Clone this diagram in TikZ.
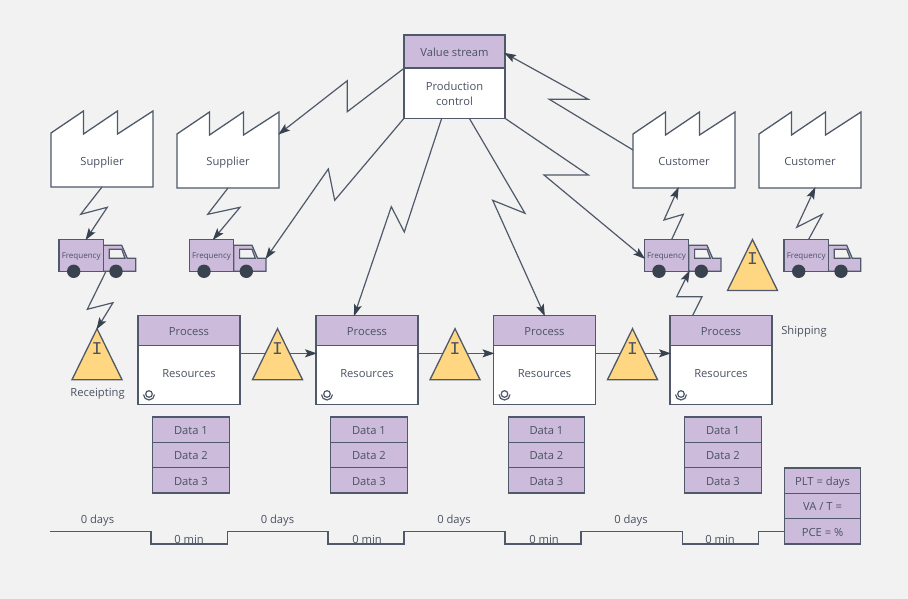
\documentclass[tikz,border=0pt]{standalone}
\usepackage{fontspec}
\setmainfont{Open Sans}
\newfontfamily\monofam{Liberation Mono}
\usetikzlibrary{arrows.meta,shapes.geometric}
\definecolor{bgc}{HTML}{F2F2F2}
\definecolor{linec}{HTML}{4F5969}
\definecolor{darkc}{HTML}{38434F}
\definecolor{textc}{HTML}{4B5262}
\definecolor{lilac}{HTML}{CDBBDC}
\definecolor{sand}{HTML}{FFD782}
\tikzset{
  base/.style={draw=linec,line width=1.3pt,inner sep=0pt,outer sep=0pt,text=textc,text height=11.6pt,text depth=2pt,font=\fontsize{11.2}{15}\selectfont},
  head/.style={base,fill=lilac,anchor=north west},
  body/.style={base,fill=white,anchor=north west},
  plain/.style={inner sep=0pt,text=textc,text height=10pt,text depth=2pt,font=\fontsize{11.2}{15}\selectfont},
  bolt/.style={draw=linec,line width=1.2pt,line join=miter,-{Stealth[length=12pt,width=8pt,inset=2.5pt,color=darkc]},shorten >=-1pt},
  flat/.style={draw=linec,line width=1.2pt},
  invtri/.style={draw=linec,line width=1.3pt,fill=sand,shape=isosceles triangle,shape border rotate=90,outer sep=0pt,
    isosceles triangle stretches,minimum width=50pt,minimum height=51pt,inner sep=0pt},
  ibar/.style={inner sep=0pt,text=textc,font=\monofam\fontsize{18}{18}\selectfont},
}
% factory outline with its name
\newcommand{\factory}[4]{
  \filldraw[base,fill=white] (#2,#3+22) -- (#2+32.5,#3) -- (#2+32.5,#3+23) -- (#2+66.5,#3) -- (#2+66.5,#3+23)
    -- (#2+102,#3) -- (#2+102,#3+76) -- (#2,#3+76) -- cycle;
  \node[minimum width=102pt,minimum height=76pt,inner sep=0pt,outer sep=0pt] (#1) at (#2+51,#3+38) {};
  \node[plain] (#1t) at (#2+51,#3+50) {#4};
}
\newcommand{\truck}[2]{
  \begin{scope}[shift={(#2,239.3)}]
  \filldraw[base,fill=lilac] (44.3,6) -- (62.7,6) -- (68.3,19) -- (76.7,19) -- (76.7,32) -- (44.3,32) -- cycle;
  \filldraw[base,line width=1.2pt,fill=bgc] (50.3,10) -- (62.7,10) -- (66,19) -- (50.3,19) -- cycle;
  \node[head,minimum width=44.3pt,minimum height=32pt,text height=8pt,text depth=2pt,font=\fontsize{8}{9}\selectfont] (#1) at (0,0) {Frequency};
  \fill[darkc] (14.7,32) circle (6.7) (57,32) circle (6.7);
  \end{scope}
}
\newcommand{\triangl}[3]{
  \node[invtri,anchor=apex] (#1) at (#2,#3) {};
  \node[ibar] (#1i) at (#2,#3+19.5) {I};
}
\begin{document}
\begin{tikzpicture}[x=1pt,y=-1pt]
\useasboundingbox (0,0) rectangle (908,599);
\fill[bgc] (0,0) rectangle (908,599);

\factory{sup1}{51}{111}{Supplier}
\factory{sup2}{177}{112}{Supplier}
\factory{cus1}{633}{112}{Customer}
\factory{cus2}{759}{112}{Customer}

\truck{trk1}{59}
\truck{trk2}{189.3}
\truck{trk3}{644.3}
\truck{trk4}{784}

\node[head,minimum width=101pt,minimum height=33pt] (vs) at (404,35) {Value stream};
\node[body,minimum width=101pt,minimum height=50pt] (ctrl) at (404,68.3) {};
\node[plain,align=center,text height=,text depth=] (ctrlt) at (454.5,94.2) {Production\\control};

\foreach \i/\x in {1/138,2/316,3/493.5,4/670}{
  \node[head,minimum width=102pt,minimum height=30pt] (p\i) at (\x,315.3) {Process};
  \node[body,minimum width=102pt,minimum height=59.5pt,text height=8pt,text depth=3.4pt] (r\i) at (\x,345.3) {Resources};
  \draw[flat] (\x+11,394) circle (3.3);
  \draw[flat] (\x+5.5,394.5) arc (180:0:5.5);
  \foreach \j/\y in {1/417,2/442.3,3/467.6}
    \node[head,minimum width=76.5pt,minimum height=25.3pt] (d\i\j) at (\x+14.7,\y) {Data \j};
}

\triangl{tri1}{97}{328.7}
\triangl{tri2}{277.5}{328.7}
\triangl{tri3}{455}{328.7}
\triangl{tri4}{632.5}{328.7}
\triangl{tri5}{752.5}{239.5}

\node[head,minimum width=76.5pt,minimum height=25.3pt] (s1) at (784.3,468) {PLT = days};
\node[head,minimum width=76.5pt,minimum height=25.3pt] (s2) at (784.3,493.3) {VA / T =};
\node[head,minimum width=76.5pt,minimum height=25.3pt] (s3) at (784.3,518.6) {PCE = \%};

\node[plain] (ship) at (804,330.7) {Shipping};
\node[plain] (rec) at (97.5,392) {Receipting};

\foreach \a/\t/\b in {1/2/2,2/3/3,3/4/4}{
  \coordinate (fa\a) at ([yshift=21.7pt]r\a.east);
  \coordinate (fb\a) at ([yshift=21.7pt]r\b.west);
  \draw[flat] (fa\a) -- ([xshift=-12.5pt]fa\a -| tri\t.apex);
  \draw[bolt] ([xshift=12.5pt]fa\a -| tri\t.apex) -- (fb\a);
}

\draw[bolt] (ctrl.north west) -- (347.3,111.7) -- (347.3,80.7) -- ([yshift=16pt]sup2.east);
\draw[bolt] (ctrl.south west) -- (334.7,200.3) -- (328.3,169) -- ([xshift=32.4pt,yshift=-3pt]trk2.east);
\draw[bolt] ([xshift=-12.8pt]ctrl.south) -- (404.3,232) -- (391.3,206.7) -- ([xshift=-12.7pt]p2.north);
\draw[bolt] ([xshift=14.8pt]ctrl.south) -- (525,213.3) -- (492.7,200.3) -- (p3.north);
\draw[bolt] (ctrl.south east) -- (588.3,175) -- (544,175) -- ([yshift=-3pt]trk3.west);
\draw[bolt] (cus1.west) -- (549.3,99.3) -- (588.3,99.3) -- ([yshift=-1.8pt]vs.east);
\draw[bolt] (sup1.south) -- (80.7,214.3) -- (107.3,207.3) -- ([xshift=4.9pt]trk1.north);
\draw[bolt] (sup2.south) -- (207.7,214.3) -- (240,207.3) -- ([xshift=1.9pt]trk2.north);
\draw[bolt] ([xshift=2.7pt]trk1.south east) -- (87.3,309.3) -- (113,302.7) -- (tri1.apex);
\draw[bolt] ([xshift=5.3pt]trk3.north) -- (683.3,214.3) -- (664,220) -- ([xshift=-5.7pt]cus1.south);
\draw[bolt] ([xshift=2.5pt]trk4.north) -- (822.3,214.3) -- (796.7,227.3) -- ([xshift=5pt]cus2.south);
\draw[bolt] ([xshift=-28.3pt]p4.north) -- (702,296.7) -- (676.7,296.7) -- ([xshift=0.7pt]trk3.south east);

% time line
\coordinate (tl) at (50,531.25);
\draw[flat] (tl) -- (151,531.25) -- (151,544) -- (227.3,544) -- (227.3,531.25) -- (328,531.25) -- (328,544)
  -- (404,544) -- (404,531.25) -- (505,531.25) -- (505,544) -- (581,544) -- (581,531.25) -- (682.7,531.25)
  -- (682.7,544) -- (758.3,544) -- (758.3,531.25) -- (s3.west);
\foreach \x/\n in {97.5/a,277.5/b,454/c,631/d}
  \node[plain] (day\n) at (\x,519.3) {0 days};
\foreach \x/\n in {189/a,367/b,544/c,720/d}
  \node[plain] (min\n) at (\x,539) {0 min};
\end{tikzpicture}
\end{document}
